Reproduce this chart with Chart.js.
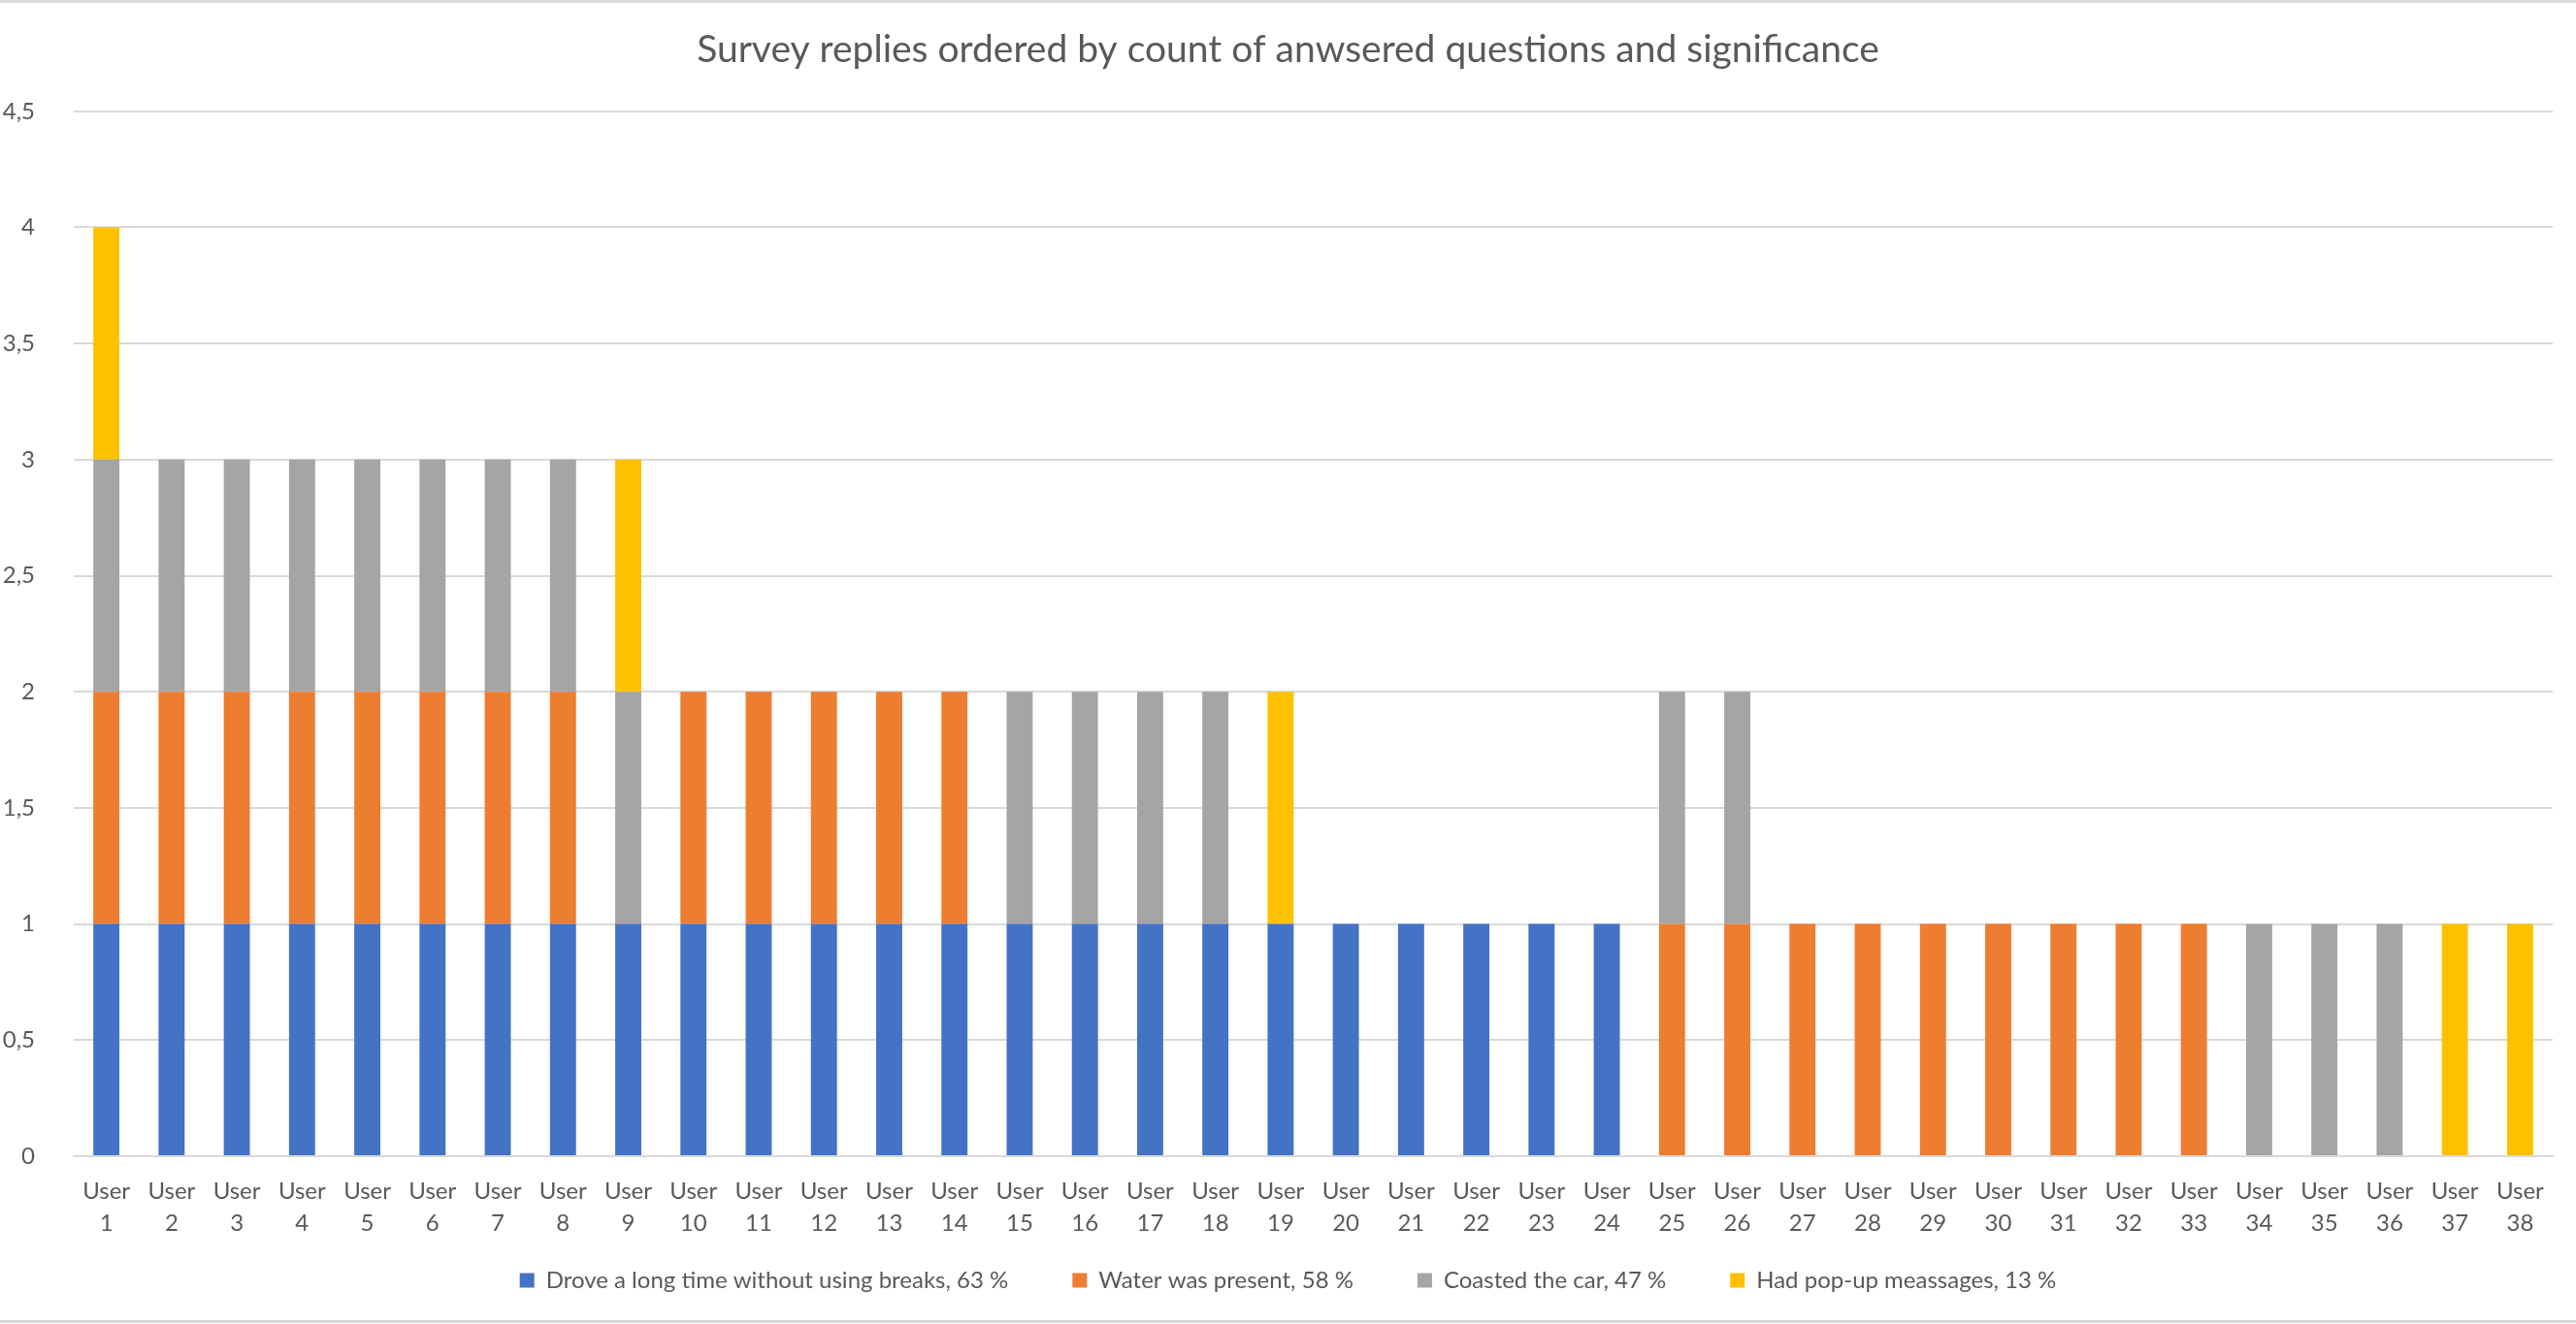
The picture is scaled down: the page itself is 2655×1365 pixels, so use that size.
<!DOCTYPE html>
<html>
<head>
<meta charset="utf-8">
<script src="https://cdn.jsdelivr.net/npm/chart.js@4.4.1/dist/chart.umd.min.js"></script>
<style>
  html, body { margin: 0; padding: 0; background: #fff; }
  #wrap { position: relative; width: 2655px; height: 1365px; overflow: hidden; }
  #surveyChart { position: absolute; left: 0; top: 0; }
  .edge { position: absolute; left: 0; width: 2655px; height: 3px; background: #d9d9d9; }
</style>
</head>
<body>
<div id="wrap">
  <canvas id="surveyChart" width="2655" height="1365"></canvas>
  <div class="edge" style="top:0"></div>
  <div class="edge" style="top:1361px"></div>
</div>
<script>
// chart data
const users = [
    '1','2','3','4','5','6','7','8','9','10','11','12','13','14','15','16','17','18','19',
    '20','21','22','23','24','25','26','27','28','29','30','31','32','33','34','35','36','37','38'
];
const droveLong  = [1,1,1,1,1,1,1,1,1,1,1,1,1,1,1,1,1,1,1,1,1,1,1,1,0,0,0,0,0,0,0,0,0,0,0,0,0,0];
const waterPresent = [1,1,1,1,1,1,1,1,0,1,1,1,1,1,0,0,0,0,0,0,0,0,0,0,1,1,1,1,1,1,1,1,1,0,0,0,0,0];
const coastedCar = [1,1,1,1,1,1,1,1,1,0,0,0,0,0,1,1,1,1,0,0,0,0,0,0,1,1,0,0,0,0,0,0,0,1,1,1,0,0];
const popupMsgs  = [1,0,0,0,0,0,0,0,1,0,0,0,0,0,0,0,0,0,1,0,0,0,0,0,0,0,0,0,0,0,0,0,0,0,0,0,1,1];
const seriesNames = [
    'Drove a long time without using breaks, 63 %',
    'Water was present, 58 %',
    'Coasted the car, 47 %',
    'Had pop-up meassages, 13 %'
];
const yTicks = [0, 0.5, 1, 1.5, 2, 2.5, 3, 3.5, 4, 4.5];

const textColor = '#595959';
const gridColor = '#d9d9d9';
const fontFamily = 'Lato, "Open Sans", sans-serif';

function makeSet(label, data, color) {
    return {
        label: label,
        data: data,
        backgroundColor: color,
        borderWidth: 0,
        barPercentage: 0.4,
        categoryPercentage: 1.0
    };
}

// legend items need wide gaps, but the padding would also make the box too tall
const legendHeightFix = {
    id: 'legendHeightFix',
    beforeLayout: (chart) => {
        const lg = chart.legend;
        if (lg && !lg._heightFixed) {
            const fit = lg.fit;
            lg.fit = function() {
                fit.call(this);
                this.height = 123;
            };
            lg._heightFixed = true;
        }
    }
};

const canvas = document.getElementById('surveyChart');
const myChart = new Chart(canvas, {
    type: 'bar',
    data: {
        labels: users.map(u => ['User', u]),
        datasets: [
            makeSet(seriesNames[0], droveLong, '#4472c4'),
            makeSet(seriesNames[1], waterPresent, '#ed7d31'),
            makeSet(seriesNames[2], coastedCar, '#a5a5a5'),
            makeSet(seriesNames[3], popupMsgs, '#ffc000')
        ]
    },
    options: {
        responsive: false,
        animation: false,
        devicePixelRatio: 1,
        layout: {
            padding: { left: 24, right: 24, top: 0, bottom: 0 }
        },
        plugins: {
            title: {
                display: true,
                text: 'Survey replies ordered by count of anwsered questions and significance',
                color: textColor,
                font: { family: fontFamily, size: 39, weight: 'normal' },
                padding: { top: 28, bottom: 40 }
            },
            legend: {
                position: 'bottom',
                labels: {
                    color: textColor,
                    font: { family: fontFamily, size: 24 },
                    boxWidth: 15,
                    boxHeight: 15,
                    padding: 66
                }
            },
            tooltip: { enabled: false }
        },
        scales: {
            x: {
                stacked: true,
                grid: { display: false, drawTicks: false },
                border: { display: true, color: gridColor, width: 2 },
                ticks: {
                    color: textColor,
                    font: { family: fontFamily, size: 24, lineHeight: 1.375 },
                    padding: 20,
                    maxRotation: 0,
                    autoSkip: false
                },
                afterFit: (scale) => {
                    scale.height = 50;
                    // let the two-line labels run past the short axis box
                    scale._computeLabelArea = () => null;
                }
            },
            y: {
                stacked: true,
                min: 0,
                max: 4.5,
                afterBuildTicks: (scale) => {
                    scale.ticks = yTicks.map(v => ({ value: v }));
                },
                grid: { color: gridColor, lineWidth: 2, drawTicks: false },
                border: { display: false },
                ticks: {
                    color: textColor,
                    font: { family: fontFamily, size: 24 },
                    padding: 40,
                    callback: function(value) {
                        return String(value).replace('.', ',');
                    }
                },
                afterFit: (scale) => {
                    scale.width = 52;
                    scale._computeLabelArea = () => null;
                }
            }
        }
    },
    plugins: [legendHeightFix]
});
</script>
</body>
</html>
